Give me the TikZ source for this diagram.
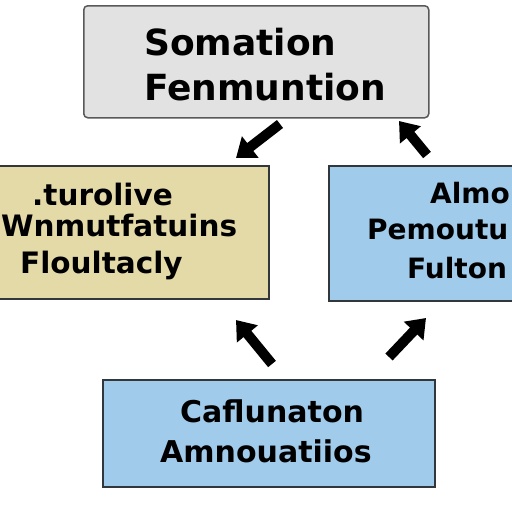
\documentclass[tikz,border=0pt]{standalone}
\usepackage{fontspec}
\setmainfont{DejaVu Sans}
\usetikzlibrary{arrows.meta}
\definecolor{topgray}{RGB}{226,226,226}
\definecolor{tanfill}{RGB}{228,218,168}
\definecolor{skyfill}{RGB}{160,203,235}
\definecolor{edgecol}{RGB}{50,55,60}
\begin{document}
\begin{tikzpicture}[x=1pt,y=-1pt,
  box/.style={draw=edgecol, line width=1.5pt, rectangle, anchor=north west, inner sep=0pt},
  txt/.style={font=\bfseries\fontsize{29.5}{29.5}\selectfont, anchor=base west, inner sep=0pt},
  bigtxt/.style={font=\bfseries\fontsize{36}{36}\selectfont, anchor=base west, inner sep=0pt},
  rtxt/.style={txt, font=\bfseries\fontsize{28}{28}\selectfont},
  btxt/.style={txt, font=\bfseries\fontsize{30}{30}\selectfont},
  bigarrow/.style={line width=10pt, -{Triangle[width=26pt,length=18pt]}}]
\useasboundingbox (0,0) rectangle (512,512);
\fill[white] (0,0) rectangle (512,512);
% boxes
\node[box, draw=black!65, fill=topgray, rounded corners=4pt, minimum width=345pt, minimum height=112pt] (topbox) at (83,5) {};
\node[box, fill=tanfill, minimum width=278pt, minimum height=133pt] (leftbox) at (-10,165) {};
\node[box, fill=skyfill, minimum width=200pt, minimum height=135pt] (rightbox) at (328,165) {};
\node[box, fill=skyfill, minimum width=332pt, minimum height=107pt] (botbox) at (102,379) {};
% texts
\node[bigtxt] (t1) at (144,55) {Somation};
\node[bigtxt] (t2) at (144,100) {Fenmuntion};
\node[txt] (l1) at (32,205) {.turolive};
\node[txt] (l2) at (1,236) {Wnmutfatuins};
\node[txt] (l3) at (20,273) {Floultacly};
\node[rtxt] (r1) at (430,203) {Almo};
\node[rtxt] (r2) at (367,239) {Pemoutu};
\node[rtxt] (r3) at (407,278) {Fulton};
\node[btxt] (b1) at (180,422) {Caflunaton};
\node[btxt] (b2) at (160,462) {Amnouatiios};
% arrow ends
\coordinate (a1s) at (280,124); \coordinate (a1e) at (236,158);
\coordinate (a2s) at (427,155); \coordinate (a2e) at (399,121);
\coordinate (a3s) at (272,364); \coordinate (a3e) at (236,320);
\coordinate (a4s) at (389,357); \coordinate (a4e) at (426,318);
\draw[bigarrow] (a1s) -- (a1e);
\draw[bigarrow] (a2s) -- (a2e);
\draw[bigarrow] (a3s) -- (a3e);
\draw[bigarrow] (a4s) -- (a4e);
\end{tikzpicture}
\end{document}
